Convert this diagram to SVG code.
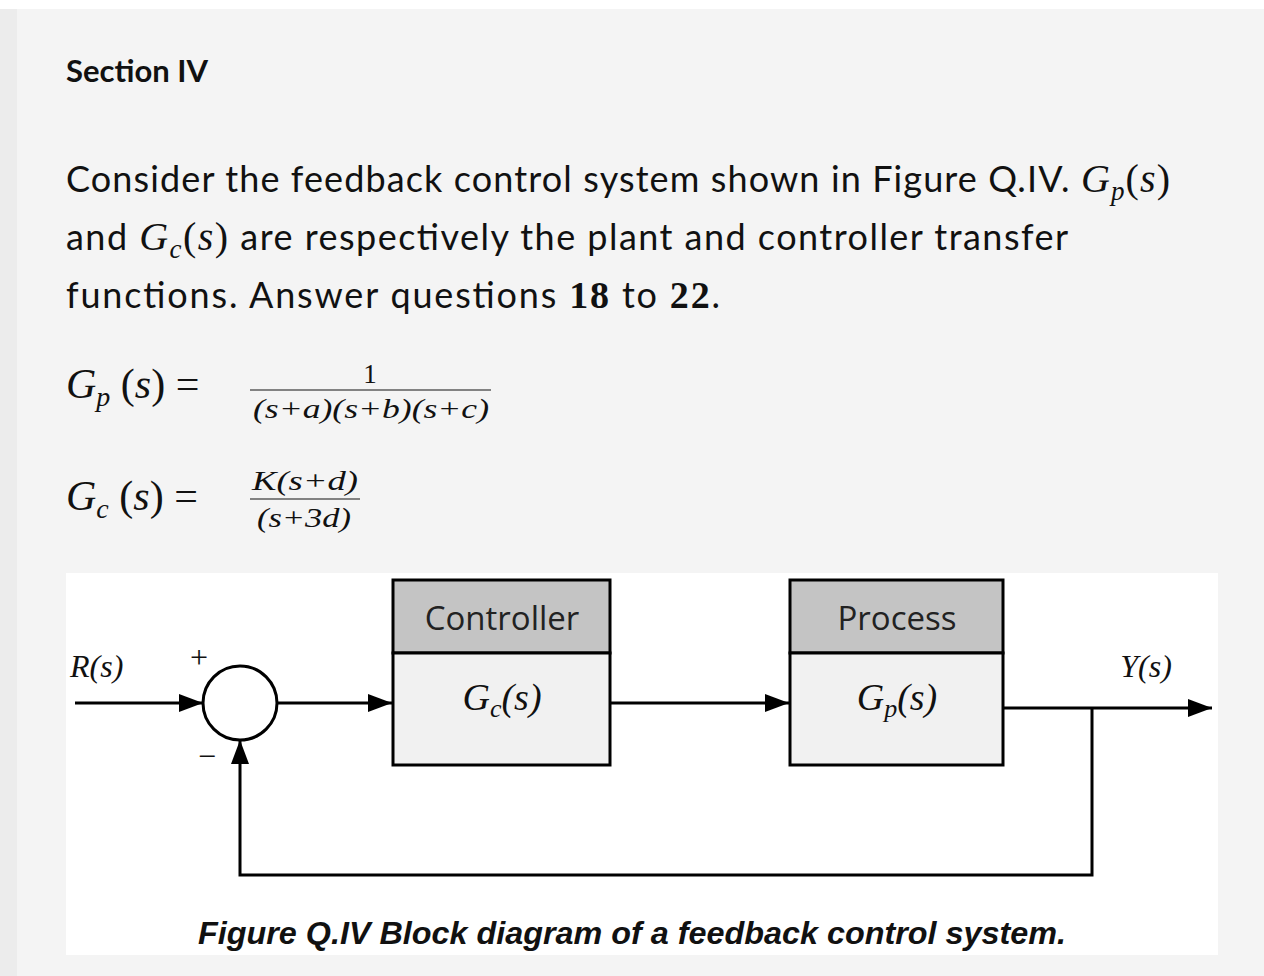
<svg xmlns="http://www.w3.org/2000/svg" width="1264" height="976" viewBox="0 0 1264 976">
<defs>
<marker id="a2" viewBox="0 0 24 18" refX="24" refY="9" markerWidth="24" markerHeight="18" orient="auto" markerUnits="userSpaceOnUse"><path d="M0,0 L24,9 L0,18 z" fill="#000"/></marker>
</defs>
<style>
.t{font-family:Lato,"Noto Sans",sans-serif;fill:#111}
.m{font-family:"Liberation Serif","DejaVu Serif",serif;font-style:italic;fill:#111}
.r{font-family:"Liberation Serif","DejaVu Serif",serif;font-style:normal;fill:#111}
.b{font-family:"Open Sans","Noto Sans",sans-serif;fill:#222}
.w{stroke:#000;stroke-width:3;fill:none}
</style>
<rect width="1264" height="976" fill="#f4f4f4"/>
<rect width="1264" height="9" fill="#fff"/>
<rect x="0" y="9" width="17" height="967" fill="#ececec"/>
<text class="t" x="66" y="82" font-size="31" font-weight="bold">Section IV</text>
<text class="t" x="66" y="192" font-size="36" textLength="1104" lengthAdjust="spacing">Consider the feedback control system shown in Figure Q.IV. <tspan class="m" font-size="40">G</tspan><tspan class="m" font-size="27" dy="8">p</tspan><tspan class="r" font-size="40" dy="-8">(</tspan><tspan class="m" font-size="40">s</tspan><tspan class="r" font-size="40">)</tspan></text>
<text class="t" x="66" y="250" font-size="36" textLength="1002" lengthAdjust="spacing">and <tspan class="m" font-size="40">G</tspan><tspan class="m" font-size="27" dy="8">c</tspan><tspan class="r" font-size="40" dy="-8">(</tspan><tspan class="m" font-size="40">s</tspan><tspan class="r" font-size="40">)</tspan> are respectively the plant and controller transfer</text>
<text class="t" x="66" y="308" font-size="36" textLength="654" lengthAdjust="spacing">functions. Answer questions <tspan class="r" font-size="38" font-weight="bold">18</tspan> to <tspan class="r" font-size="38" font-weight="bold">22</tspan>.</text>
<text class="m" x="66" y="398" font-size="42">G<tspan font-size="28" dy="8">p</tspan><tspan class="r" dy="-8"> (</tspan>s<tspan class="r">)  =</tspan></text>
<text class="r" x="370" y="383" font-size="27" text-anchor="middle">1</text>
<line x1="250" y1="390" x2="491" y2="390" stroke="#111" stroke-width="1.2"/>
<text class="m" x="253" y="418" font-size="27" textLength="236" lengthAdjust="spacingAndGlyphs">(s+a)(s+b)(s+c)</text>
<text class="m" x="66" y="510" font-size="42">G<tspan font-size="28" dy="8">c</tspan><tspan class="r" dy="-8"> (</tspan>s<tspan class="r">)  =</tspan></text>
<text class="m" x="252" y="490" font-size="27" textLength="106" lengthAdjust="spacingAndGlyphs">K(s+d)</text>
<line x1="250" y1="499" x2="360" y2="499" stroke="#111" stroke-width="1.2"/>
<text class="m" x="257" y="527" font-size="27" textLength="94" lengthAdjust="spacingAndGlyphs">(s+3d)</text>
<rect x="66" y="573" width="1152" height="382" fill="#fff"/>
<g id="controller">
<rect x="393" y="580" width="217" height="73" fill="#c4c4c4" stroke="#000" stroke-width="3"/>
<rect x="393" y="653" width="217" height="112" fill="#f1f1f1" stroke="#000" stroke-width="3"/>
<text class="b" x="502" y="630" font-size="33" text-anchor="middle">Controller</text>
<text class="m" x="502" y="710" font-size="38" text-anchor="middle">G<tspan font-size="26" dy="7">c</tspan><tspan dy="-7">(s)</tspan></text>
</g>
<g id="process">
<rect x="790" y="580" width="213" height="73" fill="#c4c4c4" stroke="#000" stroke-width="3"/>
<rect x="790" y="653" width="213" height="112" fill="#f1f1f1" stroke="#000" stroke-width="3"/>
<text class="b" x="897" y="630" font-size="33" text-anchor="middle">Process</text>
<text class="m" x="897" y="710" font-size="38" text-anchor="middle">G<tspan font-size="26" dy="7">p</tspan><tspan dy="-7">(s)</tspan></text>
</g>
<g id="sum">
<circle cx="240" cy="703" r="37" fill="#fff" stroke="#000" stroke-width="3"/>
</g>
<text class="m" x="70" y="677" font-size="32">R(s)</text>
<text class="r" x="199" y="668" font-size="32" text-anchor="middle">+</text>
<text class="r" x="207" y="767" font-size="32" text-anchor="middle">−</text>
<text class="m" x="1146" y="677" font-size="32" text-anchor="middle">Y(s)</text>
<g id="connectors">
<line class="w" x1="75" y1="703" x2="203" y2="703" marker-end="url(#a2)"/>
<line class="w" x1="277" y1="703" x2="392" y2="703" marker-end="url(#a2)"/>
<line class="w" x1="610" y1="703" x2="789" y2="703" marker-end="url(#a2)"/>
<line class="w" x1="1003" y1="708" x2="1212" y2="708" marker-end="url(#a2)"/>
<polyline class="w" points="1092,708 1092,875 240,875 240,740" marker-end="url(#a2)"/>
</g>
<text x="198" y="944" font-family="'Liberation Sans',Arial,sans-serif" font-size="31" font-weight="bold" font-style="italic" textLength="868" lengthAdjust="spacingAndGlyphs" fill="#111">Figure Q.IV Block diagram of a feedback control system.</text>
</svg>
